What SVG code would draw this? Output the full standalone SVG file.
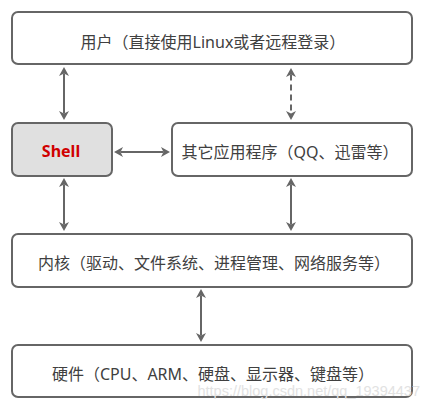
<svg xmlns="http://www.w3.org/2000/svg" width="432" height="411" viewBox="0 0 432 411">
<style>
.box{fill:#ffffff;stroke:#666666;stroke-width:2}
.lbl{font-family:"Noto Sans","Noto Sans CJK SC",sans-serif;font-size:16px;fill:#404040;text-anchor:middle}
.con{stroke:#666666;stroke-width:2;fill:none;marker-start:url(#ah);marker-end:url(#ah)}
</style>
<defs>
<marker id="ah" viewBox="0 0 9 10" refX="2.5" refY="5" markerWidth="9" markerHeight="10" markerUnits="userSpaceOnUse" orient="auto-start-reverse">
<path d="M0,0 L9,5 L0,10 L2.5,5 z" fill="#666666"/>
</marker>
</defs>
<rect width="432" height="411" fill="#ffffff"/>
<g id="connectors">
<line class="con" x1="64" y1="73.5" x2="64" y2="113.5"/>
<line class="con" x1="291" y1="74.5" x2="291" y2="113.5" stroke-dasharray="6,4"/>
<line class="con" x1="120.5" y1="152" x2="163.5" y2="152"/>
<line class="con" x1="64" y1="184.5" x2="64" y2="224.5"/>
<line class="con" x1="291" y1="184.5" x2="291" y2="224.5"/>
<line class="con" x1="201" y1="295.5" x2="201" y2="335.5"/>
</g>
<g id="user">
<rect class="box" x="12" y="12" width="400" height="52" rx="6"/>
<text class="lbl" x="213" y="47.5">用户（直接使用Linux或者远程登录）</text>
</g>
<g id="shell">
<rect class="box" x="12" y="123" width="100" height="53" rx="6" style="fill:#e0e0e0"/>
<text x="61" y="156.5" style="font-family:'Noto Sans',sans-serif;font-size:16px;font-weight:bold;fill:#d00000;text-anchor:middle">Shell</text>
</g>
<g id="apps">
<rect class="box" x="172" y="123" width="240" height="53" rx="6"/>
<text class="lbl" x="290" y="158">其它应用程序（QQ、迅雷等）</text>
</g>
<g id="kernel">
<rect class="box" x="12" y="234" width="400" height="53" rx="6"/>
<text class="lbl" x="214" y="268.5">内核（驱动、文件系统、进程管理、网络服务等）</text>
</g>
<g id="hardware">
<rect class="box" x="12" y="345" width="400" height="52" rx="6"/>
<text class="lbl" x="213" y="379.5">硬件（CPU、ARM、硬盘、显示器、键盘等）</text>
</g>
<text x="420" y="396" style="font-family:'Liberation Sans',sans-serif;font-size:14.5px;fill:#e2e2e2;text-anchor:end">https://blog.csdn.net/qq_19394437</text>
</svg>
